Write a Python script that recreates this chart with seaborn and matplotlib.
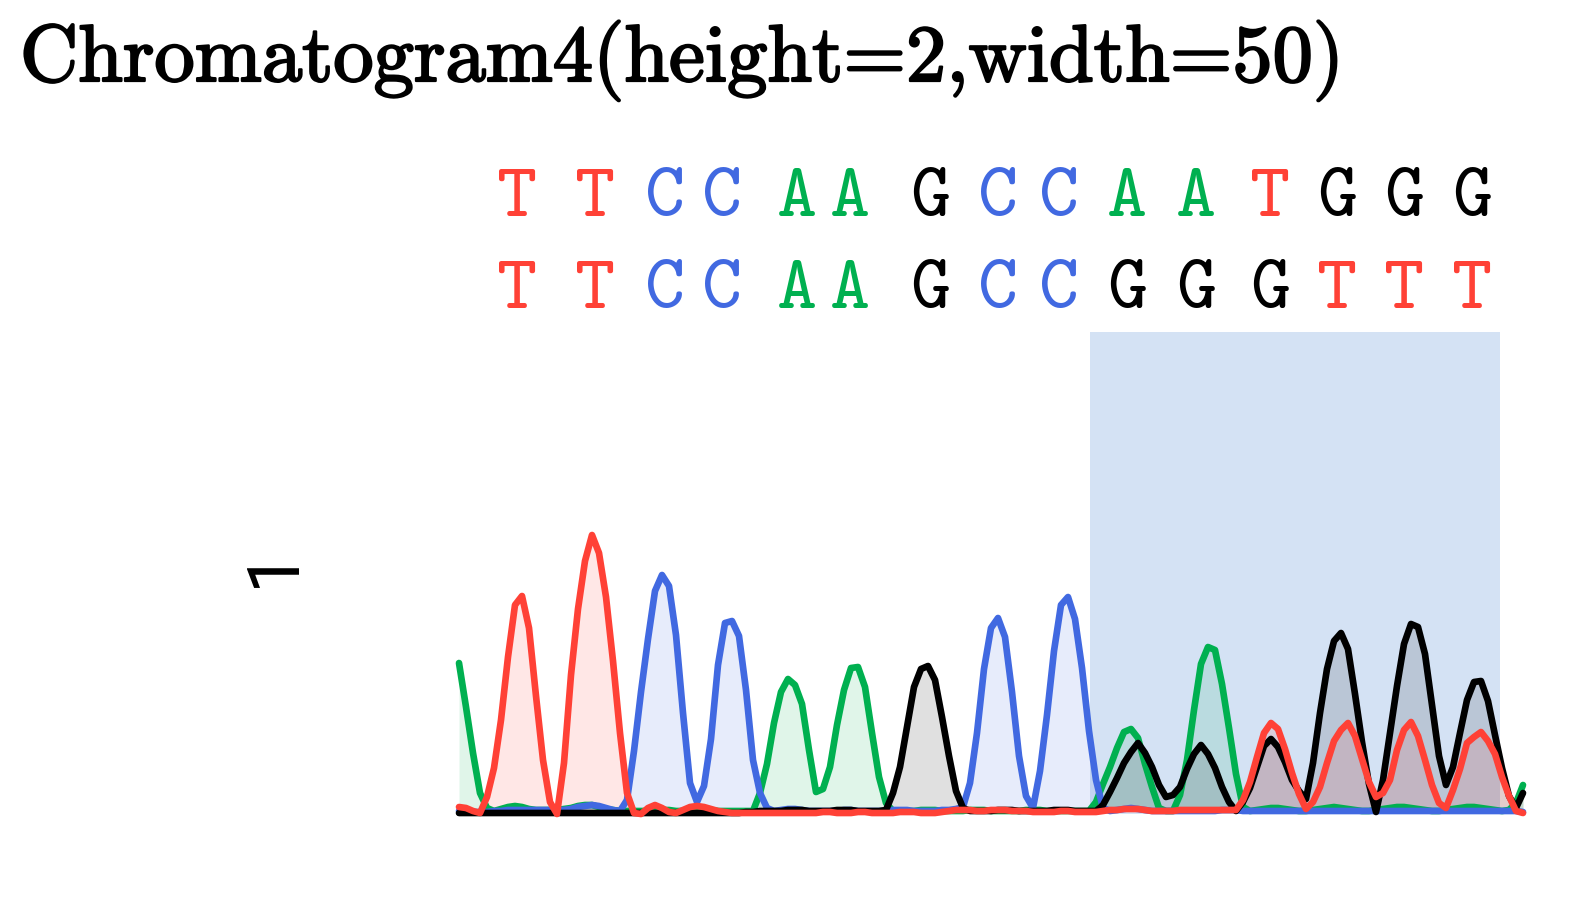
import matplotlib
matplotlib.use("Agg")
import matplotlib.pyplot as plt
import matplotlib.patheffects as pe
import seaborn as sns
import numpy as np
from matplotlib.patches import Rectangle

# ---------------- data ----------------
title = "Chromatogram4(height=2,width=50)"
seq_name = "1"
seq_top = list("TTCCAAGCCAATGGG")
seq_bottom = list("TTCCAAGCCGGGTTT")
base_calls = [8.3, 19.4, 29.4, 37.6, 48.3, 55.9, 67.3, 77.0, 85.7,
              95.4, 105.3, 115.9, 125.4, 135.0, 144.7]
highlight_range = (90.1, 148.7)

trace_A = [148, 104, 58, 18, 3, 0, 2, 4, 5, 4,
           2, 1, 1, 1, 1, 2, 3, 5, 6, 6,
           4, 2, 1, 0, 0, 0, 0, 0, 1, 1,
           1, 0, 0, 0, 1, 1, 1, 0, 0, 0,
           0, 0, 0, 18, 47, 88, 119, 132, 126, 107,
           61, 19, 22, 44, 86, 121, 143, 144, 124, 78,
           34, 8, 0, 0, 0, 0, 1, 1, 1, 0,
           0, 0, 0, 1, 1, 1, 0, 0, 0, 0,
           0, 1, 1, 1, 0, 0, 0, 0, 0, 0,
           0, 9, 27, 44, 63, 79, 82, 73, 47, 24,
           3, 0, 0, 16, 51, 101, 147, 164, 161, 127,
           83, 37, 4, 0, 1, 2, 3, 3, 2, 1,
           0, 0, 1, 2, 3, 4, 3, 2, 1, 0,
           0, 1, 2, 3, 4, 4, 3, 2, 1, 0,
           0, 1, 2, 3, 4, 4, 3, 2, 1, 0,
           1, 8, 26]

trace_C = [0, 0, -1, -1, -1, 0, 0, 1, 1, 1,
           1, 1, 1, 1, 1, 1, 2, 4, 5, 6,
           5, 3, 1, 0, 11, 60, 119, 172, 220, 236,
           225, 176, 98, 28, 9, 25, 72, 146, 188, 190,
           175, 121, 51, 18, 3, 0, 1, 2, 2, 1,
           0, 0, 0, 0, 0, 1, 1, 0, 0, 0,
           0, 0, 1, 1, 1, 0, 0, 0, 0, 1,
           1, 2, 4, 28, 78, 142, 183, 193, 174, 119,
           55, 15, 3, 40, 96, 160, 206, 214, 192, 143,
           80, 31, 3, 0, 1, 2, 3, 2, 1, 0,
           0, 0, 0, 0, 0, 0, 0, 0, 0, 1,
           1, 1, 0, 0, 0, 0, 0, 0, 0, 0,
           0, 0, 0, 0, 0, 0, 0, 0, 0, 0,
           0, 0, 0, 0, 0, 0, 0, 0, 0, 0,
           0, 0, 0, 0, 0, 0, 0, 0, 0, 0,
           0, 0, -1]

trace_G = [-2, -2, -2, -2, -2, -2, -2, -2, -2, -2,
           -2, -2, -2, -2, -2, -2, -2, -2, -2, -2,
           -2, -2, -2, -2, -2, -2, -2, -2, -2, -2,
           -2, -2, -2, -2, -2, -2, -2, -2, -2, -2,
           -2, -1, -1, 0, 0, 0, 0, 1, 1, 1,
           0, 0, 0, 0, 1, 1, 1, 0, 0, 0,
           0, 1, 18, 44, 84, 124, 142, 145, 131, 94,
           55, 20, 3, 0, 0, 0, 0, 1, 1, 1,
           0, 0, 0, 0, 0, 1, 1, 1, 0, 0,
           0, 0, 6, 19, 33, 48, 59, 68, 58, 44,
           26, 14, 16, 24, 42, 57, 66, 57, 43, 24,
           9, 0, 9, 23, 44, 65, 72, 64, 49, 31,
           20, 12, 48, 98, 142, 170, 178, 162, 117, 69,
           27, -1, 31, 78, 125, 167, 187, 184, 157, 106,
           55, 26, 44, 78, 111, 129, 130, 110, 76, 43,
           15, 3, 18]

trace_T = [4, 3, 0, -2, 14, 43, 91, 154, 206, 215,
           183, 115, 51, 9, -3, 48, 136, 202, 250, 276,
           258, 214, 150, 78, 18, -2, -3, 3, 6, 3,
           -1, -2, 1, 4, 5, 4, 2, 0, -1, -2,
           -2, -2, -2, -2, -2, -2, -2, -2, -2, -2,
           -2, -2, -1, -1, -2, -2, -2, -1, -1, -2,
           -2, -2, -2, -1, -1, -1, -2, -2, -2, -1,
           0, 1, 1, 1, 0, 0, 1, 1, 1, 0,
           0, 0, -1, -1, -1, -1, 0, 0, -1, -1,
           -1, -1, 0, 1, 1, 2, 2, 2, 1, 0,
           0, 0, 0, 1, 1, 1, 1, 1, 1, 1,
           1, 1, 11, 29, 54, 78, 88, 82, 62, 38,
           17, 2, 9, 24, 48, 70, 81, 88, 75, 52,
           29, 14, 18, 31, 61, 81, 89, 75, 51, 26,
           8, 3, 21, 42, 68, 74, 79, 70, 57, 34,
           15, 0, -2]

base_colors = {"A": "#00B050", "C": "#4169E1", "G": "#000000", "T": "#FF4136"}

# ---------------- figure ----------------
sns.set_theme(style="white")
plt.rcParams["font.family"] = ["DejaVu Sans"]
plt.rcParams["text.color"] = "black"

W, H = 1581, 914
fig = plt.figure(figsize=(W / 100, H / 100), dpi=100)
fig.patch.set_facecolor("white")

ax = fig.add_axes([459 / W, (H - 821) / H, 1064 / W, 710 / H])
ax.set_xlim(0, 152)
ax.set_ylim(-10, 700)
ax.axis("off")

# highlighted region
ax.add_patch(Rectangle((highlight_range[0], -3),
                       highlight_range[1] - highlight_range[0], 482,
                       facecolor="#D4E2F4", edgecolor="none", zorder=0))

samples = np.arange(len(trace_A))
traces = [("A", trace_A), ("C", trace_C), ("G", trace_G), ("T", trace_T)]

for base, tr in traces:
    ax.fill_between(samples, 0, tr, color=base_colors[base], alpha=0.12,
                    linewidth=0, zorder=1)
for base, tr in traces:
    sns.lineplot(x=samples, y=tr, color=base_colors[base], linewidth=4.8,
                 ax=ax, legend=False, zorder=3, clip_on=False)

# base letters (serif typewriter face)
for xpos, b1, b2 in zip(base_calls, seq_top, seq_bottom):
    ax.text(xpos, 595, b1, color=base_colors[b1], fontsize=55,
            family="cmtt10", ha="center", va="baseline")
    ax.text(xpos, 503, b2, color=base_colors[b2], fontsize=55,
            family="cmtt10", ha="center", va="baseline")

# title & sequence name
fig.text(20 / W, 1 - 81 / H, title, fontsize=58, family="cmr10", color="black",
         ha="left", va="baseline",
         path_effects=[pe.withStroke(linewidth=1.6, foreground="black")])
fig.text(274 / W, 1 - 567 / H, seq_name, rotation=90, fontsize=52,
         family=["Roboto", "Open Sans", "Lato", "DejaVu Sans"],
         color="black", ha="center", va="center")

fig.savefig("out.png", dpi=100)
